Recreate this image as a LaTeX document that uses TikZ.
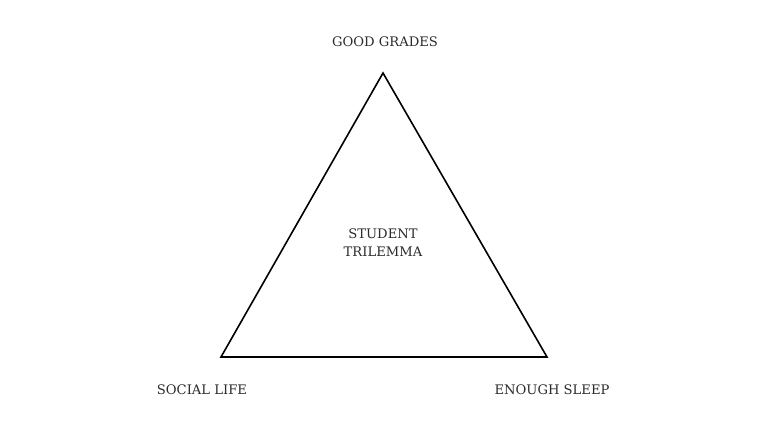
\documentclass[tikz,border=0pt]{standalone}
\usepackage{fontspec}
\setmainfont{DejaVu Serif}
\definecolor{labelgray}{HTML}{2B2B2B}
\begin{document}
\begin{tikzpicture}[x=1bp,y=-1bp,
        corner/.style={text=labelgray, font=\fontsize{13.2}{18}\selectfont, align=center}]
            \useasboundingbox (0,0) rectangle (768,432);
            \coordinate (Top) at (383,73);
            \coordinate (Left) at (221,357);
            \coordinate (Right) at (547,357);

            \node[corner] (Grades) at (385,42) {GOOD GRADES};
            \node[corner] (Social) at (202,390) {SOCIAL LIFE};
            \node[corner] (Sleep) at (552,390) {ENOUGH SLEEP};
            \node[corner] (Trilemma) at (383,243) {STUDENT\\TRILEMMA};

            \draw[line width=1.6bp, line join=miter] (Top) -- (Left) -- (Right) -- cycle;
        \end{tikzpicture}
\end{document}
